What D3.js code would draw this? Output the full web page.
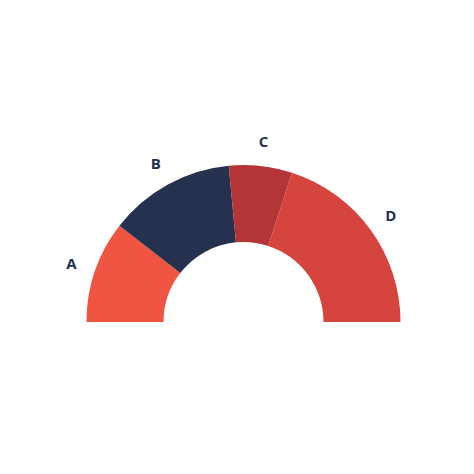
<!DOCTYPE html>
<html>
<head>
<meta charset="utf-8">
<script src="https://cdn.jsdelivr.net/npm/d3@7"></script>
<style>
  body { margin: 0; background: #fff; }
  svg { display: block; }
</style>
</head>
<body>
<div id="chart"></div>
<script>
let categories = ['A', 'B', 'C', 'D'];
let values = [21, 26, 13, 40];
let colors = ['#f05442', '#263150', '#b33538', '#d5443d'];

let width = 474, height = 474;
let cx = 243.5, cy = 322;
let outerR = 157, innerR = 80, labelR = 182;

let svg = d3.select('#chart')
  .append('svg')
    .attr('width', width)
    .attr('height', height)
;

let data = categories.map(function(c, i){
  return {name: c, value: values[i], color: colors[i]};
});

let pie = d3.pie()
  .sort(null)
  .value(function(d){ return d.value; })
  .startAngle(-Math.PI / 2)
  .endAngle(Math.PI / 2)
;

let arc = d3.arc().innerRadius(innerR).outerRadius(outerR);
let labelArc = d3.arc().innerRadius(labelR).outerRadius(labelR);

let g = svg.append('g')
  .attr('transform', 'translate(' + cx + ',' + cy + ')');

g.selectAll('.slice').data(pie(data))
  .enter()
  .append('path')
    .attr('class', 'slice')
    .attr('d', arc)
    .attr('fill', function(d){ return d.data.color; })
;

// labels outside the arc
g.selectAll('.label').data(pie(data))
  .enter()
  .append('text')
    .attr('class', 'label')
    .attr('transform', function(d){
      return 'translate(' + labelArc.centroid(d) + ')';
    })
    .attr('text-anchor', 'middle')
    .attr('dy', '0.4em')
    .attr('font-family', '"Open Sans", Lato, sans-serif')
    .attr('font-weight', 'bold')
    .attr('font-size', 15)
    .attr('fill', '#263150')
    .text(function(d){ return d.data.name; })
;
</script>
</body>
</html>
